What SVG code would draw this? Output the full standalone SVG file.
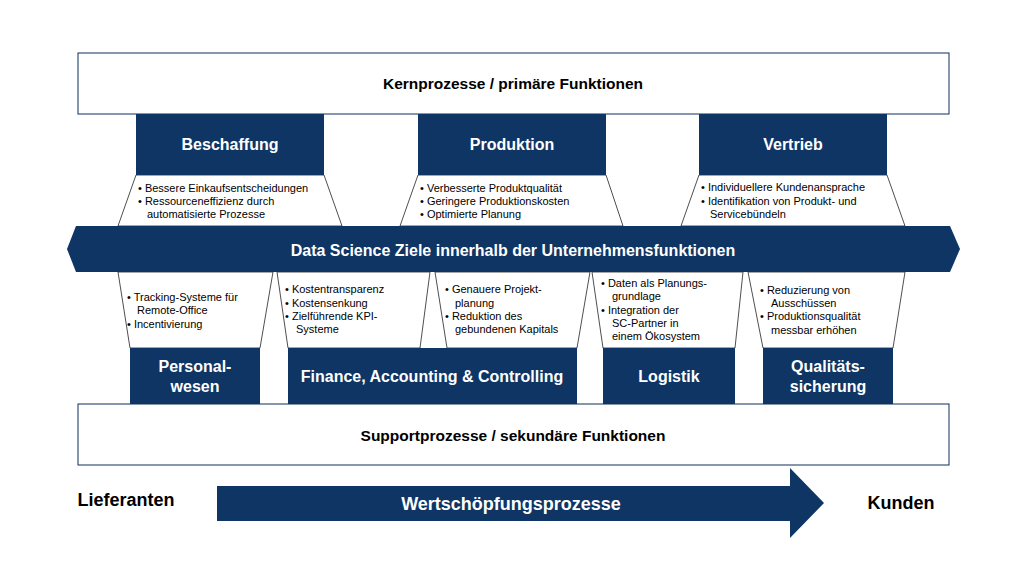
<svg xmlns="http://www.w3.org/2000/svg" width="1018" height="576" viewBox="0 0 1018 576">
<style>
text{font-family:"Liberation Sans",Arial,sans-serif}
.w{fill:#fff;stroke:#0e2f5a;stroke-width:1}
.d{fill:#0e3564}
.tr{fill:#fff;stroke:#222;stroke-width:0.8}
.h{font-size:16px;font-weight:bold;fill:#fff;text-anchor:middle}
.k{font-size:15.5px;font-weight:bold;fill:#000;text-anchor:middle}
.b{font-size:11px;fill:#000}
</style>
<rect width="1018" height="576" fill="#fff"/>
<g id="connectors">
<polygon class="tr" points="136,175 324,175 342,226 118,226"/>
<polygon class="tr" points="418,175 606,175 623,226 400,226"/>
<polygon class="tr" points="699,175 887,175 905,226 681,226"/>
<polygon class="tr" points="118,272 273,272 260,348 130,348"/>
<polygon class="tr" points="277,272 430,272 420,348 288,348"/>
<polygon class="tr" points="435,272 590,272 577,348 447,348"/>
<polygon class="tr" points="592,272 743,272 735,348 603,348"/>
<polygon class="tr" points="748,272 905,272 893,348 763,348"/>
</g>
<g id="kern"><rect class="w" x="78" y="53" width="871" height="61"/><text class="k" x="513" y="89">Kernprozesse / primäre Funktionen</text></g>
<g id="beschaffung"><rect class="d" x="136" y="114" width="188" height="61"/><text class="h" x="230" y="150">Beschaffung</text>
<text class="b" x="138" y="192">• Bessere Einkaufsentscheidungen</text><text class="b" x="138" y="205">• Ressourceneffizienz durch</text><text class="b" x="147" y="218">automatisierte Prozesse</text></g>
<g id="produktion"><rect class="d" x="418" y="114" width="188" height="61"/><text class="h" x="512" y="150">Produktion</text>
<text class="b" x="420" y="192">• Verbesserte Produktqualität</text><text class="b" x="420" y="205">• Geringere Produktionskosten</text><text class="b" x="420" y="218">• Optimierte Planung</text></g>
<g id="vertrieb"><rect class="d" x="699" y="114" width="188" height="61"/><text class="h" x="793" y="150">Vertrieb</text>
<text class="b" x="701" y="191">• Individuellere Kundenansprache</text><text class="b" x="701" y="205">• Identifikation von Produkt- und</text><text class="b" x="710" y="218">Servicebündeln</text></g>
<g id="band"><polygon class="d" points="76,226 950,226 960,249 950,272 76,272 67,249"/><text class="h" x="513" y="256">Data Science Ziele innerhalb der Unternehmensfunktionen</text></g>
<g id="personal"><rect class="d" x="130" y="348" width="130" height="56"/><text class="h" x="195" y="372">Personal-</text><text class="h" x="195" y="392">wesen</text>
<text class="b" x="127" y="301">• Tracking-Systeme für</text><text class="b" x="137" y="314">Remote-Office</text><text class="b" x="127" y="328">• Incentivierung</text></g>
<g id="finance"><rect class="d" x="288" y="348" width="289" height="56"/><text class="h" x="432" y="382">Finance, Accounting &amp; Controlling</text>
<text class="b" x="285" y="293">• Kostentransparenz</text><text class="b" x="285" y="307">• Kostensenkung</text><text class="b" x="285" y="320">• Zielführende KPI-</text><text class="b" x="296" y="333">Systeme</text>
<text class="b" x="445" y="293">• Genauere Projekt-</text><text class="b" x="455" y="307">planung</text><text class="b" x="445" y="320">• Reduktion des</text><text class="b" x="455" y="333">gebundenen Kapitals</text></g>
<g id="logistik"><rect class="d" x="603" y="348" width="132" height="56"/><text class="h" x="669" y="382">Logistik</text>
<text class="b" x="601" y="287">• Daten als Planungs-</text><text class="b" x="612" y="300">grundlage</text><text class="b" x="601" y="314">• Integration der</text><text class="b" x="612" y="327">SC-Partner in</text><text class="b" x="612" y="340">einem Ökosystem</text></g>
<g id="qualitaet"><rect class="d" x="763" y="348" width="130" height="56"/><text class="h" x="828" y="372">Qualitäts-</text><text class="h" x="828" y="392">sicherung</text>
<text class="b" x="760" y="294">• Reduzierung von</text><text class="b" x="771" y="307">Ausschüssen</text><text class="b" x="760" y="320">• Produktionsqualität</text><text class="b" x="771" y="334">messbar erhöhen</text></g>
<g id="support"><rect class="w" x="78" y="404" width="871" height="61"/><text class="k" x="513" y="441">Supportprozesse / sekundäre Funktionen</text></g>
<g id="wert"><polygon class="d" points="217,486 790,486 790,468 824,503 790,538 790,521 217,521"/><text class="h" x="511" y="510" style="font-size:18px">Wertschöpfungsprozesse</text></g>
<g id="lieferanten"><text class="k" x="126" y="506" style="font-size:18px">Lieferanten</text></g>
<g id="kunden"><text class="k" x="901" y="509" style="font-size:18px">Kunden</text></g>
</svg>
